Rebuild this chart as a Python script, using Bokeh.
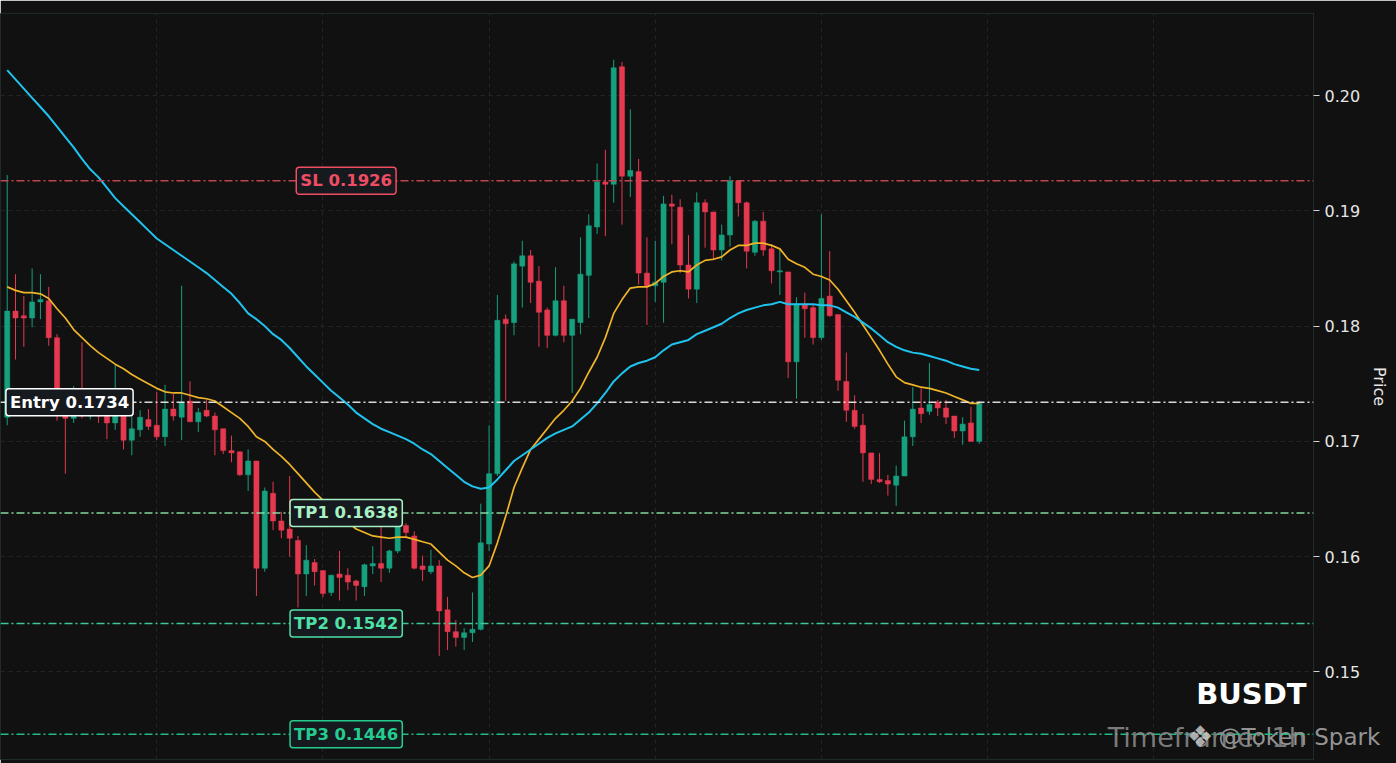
from bokeh.plotting import figure
from bokeh.models import (ColumnDataSource, Range1d, FixedTicker, PrintfTickFormatter,
                          Span, Label, Grid, Title)
from bokeh.embed import file_html
from bokeh.resources import INLINE

# ---------------- data ----------------
opens = [0.1721, 0.1813, 0.1809, 0.1807, 0.1821, 0.1822, 0.1790, 0.1723, 0.1720, 0.1725,
         0.1722, 0.1724, 0.1722, 0.1716, 0.1722, 0.1701, 0.1710, 0.1719, 0.1714, 0.1704,
         0.1728, 0.1721, 0.1735, 0.1717, 0.1727, 0.1722, 0.1711, 0.1692, 0.1691, 0.1671,
         0.1683, 0.1590, 0.1655, 0.1631, 0.1624, 0.1614, 0.1585, 0.1595, 0.1588, 0.1569,
         0.1585, 0.1584, 0.1579, 0.1574, 0.1592, 0.1594, 0.1590, 0.1605, 0.1627, 0.1618,
         0.1592, 0.1587, 0.1592, 0.1554, 0.1535, 0.1530, 0.1534, 0.1537, 0.1611, 0.1672,
         0.1806, 0.1803, 0.1852, 0.1861, 0.1839, 0.1814, 0.1792, 0.1822, 0.1792, 0.1803,
         0.1844, 0.1886, 0.1925, 0.1923, 0.2025, 0.1930, 0.1934, 0.1846, 0.1835, 0.1838,
         0.1906, 0.1903, 0.1853, 0.1832, 0.1907, 0.1899, 0.1866, 0.1879, 0.1926, 0.1907,
         0.1864, 0.1891, 0.1867, 0.1847, 0.1847, 0.1769, 0.1819, 0.1816, 0.1790, 0.1826,
         0.1810, 0.1752, 0.1727, 0.1714, 0.1690, 0.1667, 0.1666, 0.1662, 0.1670, 0.1704,
         0.1729, 0.1726, 0.1734, 0.1729, 0.1722, 0.1709, 0.1716, 0.1700]
highs = [0.1931, 0.1845, 0.1826, 0.1850, 0.1845, 0.1834, 0.1793, 0.1730, 0.1748, 0.1786,
         0.1730, 0.1728, 0.1729, 0.1767, 0.1724, 0.1727, 0.1727, 0.1728, 0.1743, 0.1749,
         0.1741, 0.1835, 0.1752, 0.1729, 0.1736, 0.1725, 0.1711, 0.1705, 0.1691, 0.1693,
         0.1683, 0.1660, 0.1665, 0.1639, 0.1670, 0.1618, 0.1610, 0.1598, 0.1588, 0.1584,
         0.1605, 0.1590, 0.1580, 0.1594, 0.1609, 0.1628, 0.1606, 0.1629, 0.1629, 0.1622,
         0.1601, 0.1606, 0.1597, 0.1565, 0.1545, 0.1538, 0.1569, 0.1646, 0.1714, 0.1827,
         0.1810, 0.1856, 0.1874, 0.1866, 0.1852, 0.1816, 0.1851, 0.1835, 0.1806, 0.1877,
         0.1897, 0.1941, 0.1953, 0.2031, 0.2029, 0.1988, 0.1945, 0.1877, 0.1874, 0.1913,
         0.1914, 0.1910, 0.1879, 0.1916, 0.1910, 0.1899, 0.1888, 0.1930, 0.1926, 0.1908,
         0.1892, 0.1899, 0.1871, 0.1866, 0.1847, 0.1825, 0.1829, 0.1819, 0.1897, 0.1865,
         0.1810, 0.1777, 0.1740, 0.1724, 0.1690, 0.1690, 0.1671, 0.1679, 0.1718, 0.1747,
         0.1746, 0.1768, 0.1736, 0.1736, 0.1722, 0.1721, 0.1730, 0.1735]
lows = [0.1714, 0.1771, 0.1782, 0.1799, 0.1806, 0.1783, 0.1718, 0.1672, 0.1716, 0.1720,
        0.1719, 0.1716, 0.1702, 0.1710, 0.1693, 0.1688, 0.1704, 0.1710, 0.1701, 0.1696,
        0.1718, 0.1701, 0.1717, 0.1708, 0.1721, 0.1688, 0.1689, 0.1682, 0.1670, 0.1657,
        0.1566, 0.1587, 0.1623, 0.1616, 0.1600, 0.1556, 0.1566, 0.1575, 0.1565, 0.1566,
        0.1562, 0.1571, 0.1562, 0.1566, 0.1585, 0.1578, 0.1586, 0.1603, 0.1616, 0.1589,
        0.1579, 0.1585, 0.1514, 0.1519, 0.1522, 0.1519, 0.1526, 0.1536, 0.1605, 0.1670,
        0.1735, 0.1792, 0.1816, 0.1820, 0.1782, 0.1781, 0.1791, 0.1786, 0.1742, 0.1793,
        0.1807, 0.1880, 0.1878, 0.1907, 0.1888, 0.1912, 0.1836, 0.1801, 0.1821, 0.1803,
        0.1871, 0.1846, 0.1824, 0.1820, 0.1868, 0.1857, 0.1857, 0.1869, 0.1895, 0.1850,
        0.1861, 0.1861, 0.1837, 0.1827, 0.1755, 0.1737, 0.1790, 0.1784, 0.1788, 0.1808,
        0.1744, 0.1717, 0.1711, 0.1665, 0.1663, 0.1664, 0.1653, 0.1644, 0.1670, 0.1696,
        0.1716, 0.1723, 0.1722, 0.1715, 0.1703, 0.1697, 0.1700, 0.1698]
closes = [0.1813, 0.1807, 0.1807, 0.1821, 0.1823, 0.1790, 0.1724, 0.1720, 0.1724, 0.1722,
          0.1725, 0.1722, 0.1716, 0.1722, 0.1701, 0.1711, 0.1721, 0.1713, 0.1704, 0.1728,
          0.1722, 0.1734, 0.1717, 0.1725, 0.1722, 0.1710, 0.1692, 0.1690, 0.1671, 0.1683,
          0.1590, 0.1657, 0.1631, 0.1623, 0.1616, 0.1585, 0.1597, 0.1587, 0.1568, 0.1584,
          0.1582, 0.1578, 0.1575, 0.1593, 0.1594, 0.1590, 0.1605, 0.1626, 0.1621, 0.1590,
          0.1589, 0.1592, 0.1553, 0.1535, 0.1530, 0.1534, 0.1537, 0.1612, 0.1672, 0.1805,
          0.1802, 0.1854, 0.1861, 0.1838, 0.1812, 0.1792, 0.1822, 0.1792, 0.1806, 0.1845,
          0.1887, 0.1925, 0.1923, 0.2024, 0.1930, 0.1935, 0.1846, 0.1835, 0.1838, 0.1906,
          0.1904, 0.1853, 0.1832, 0.1907, 0.1899, 0.1866, 0.1879, 0.1926, 0.1907, 0.1865,
          0.1891, 0.1866, 0.1848, 0.1848, 0.1769, 0.1819, 0.1815, 0.1790, 0.1824, 0.1809,
          0.1753, 0.1727, 0.1713, 0.1690, 0.1667, 0.1665, 0.1663, 0.1670, 0.1704, 0.1728,
          0.1724, 0.1732, 0.1729, 0.1721, 0.1709, 0.1715, 0.1700, 0.1733]

ema_fast = [0.1834, 0.1831, 0.1829, 0.1829, 0.1828, 0.1824, 0.1815, 0.1807, 0.1797, 0.1790,
            0.1783, 0.1777, 0.1772, 0.1767, 0.1763, 0.1758, 0.1754, 0.1750, 0.1746, 0.1743,
            0.1742, 0.1742, 0.1740, 0.1738, 0.1737, 0.1735, 0.1730, 0.1725, 0.1720, 0.1713,
            0.1704, 0.1700, 0.1693, 0.1687, 0.1680, 0.1672, 0.1664, 0.1656, 0.1649, 0.1641,
            0.1634, 0.1630, 0.1624, 0.1621, 0.1618, 0.1617, 0.1616, 0.1617, 0.1617, 0.1615,
            0.1613, 0.1611, 0.1604, 0.1597, 0.1592, 0.1586, 0.1582, 0.1584, 0.1592, 0.1612,
            0.1635, 0.1660, 0.1677, 0.1693, 0.1702, 0.1711, 0.1720, 0.1727, 0.1735, 0.1746,
            0.1760, 0.1773, 0.1790, 0.1811, 0.1823, 0.1833, 0.1834, 0.1834, 0.1837, 0.1843,
            0.1847, 0.1848, 0.1847, 0.1853, 0.1857, 0.1858, 0.1860, 0.1866, 0.1870, 0.1870,
            0.1872, 0.1872, 0.1870, 0.1867, 0.1858, 0.1854, 0.1851, 0.1845, 0.1843, 0.1840,
            0.1832, 0.1822, 0.1812, 0.1801, 0.1790, 0.1779, 0.1767, 0.1756, 0.1751, 0.1749,
            0.1747, 0.1746, 0.1744, 0.1742, 0.1739, 0.1736, 0.1733, 0.1733]
ema_slow = [0.2022, 0.2014, 0.2006, 0.1998, 0.1990, 0.1982, 0.1973, 0.1964, 0.1955, 0.1945,
            0.1936, 0.1929, 0.1920, 0.1911, 0.1904, 0.1897, 0.1890, 0.1883, 0.1876, 0.1871,
            0.1866, 0.1861, 0.1856, 0.1851, 0.1846, 0.1840, 0.1834, 0.1828, 0.1820, 0.1811,
            0.1806, 0.1800, 0.1793, 0.1788, 0.1781, 0.1773, 0.1765, 0.1758, 0.1751, 0.1744,
            0.1738, 0.1732, 0.1725, 0.1720, 0.1715, 0.1711, 0.1708, 0.1705, 0.1702, 0.1698,
            0.1693, 0.1689, 0.1683, 0.1677, 0.1671, 0.1665, 0.1661, 0.1659, 0.1660, 0.1667,
            0.1675, 0.1683, 0.1688, 0.1693, 0.1698, 0.1703, 0.1707, 0.1710, 0.1713, 0.1719,
            0.1725, 0.1733, 0.1742, 0.1752, 0.1759, 0.1765, 0.1768, 0.1770, 0.1773, 0.1779,
            0.1784, 0.1786, 0.1788, 0.1793, 0.1796, 0.1799, 0.1802, 0.1807, 0.1811, 0.1814,
            0.1816, 0.1818, 0.1819, 0.1821, 0.1819, 0.1819, 0.1819, 0.1819, 0.1818, 0.1818,
            0.1816, 0.1812, 0.1808, 0.1803, 0.1798, 0.1792, 0.1786, 0.1782, 0.1779, 0.1777,
            0.1776, 0.1774, 0.1772, 0.1770, 0.1767, 0.1765, 0.1763, 0.1762]

level_names = ["SL", "Entry", "TP1", "TP2", "TP3"]
level_values = [0.1926, 0.1734, 0.1638, 0.1542, 0.1446]
y_ticks = [0.15, 0.16, 0.17, 0.18, 0.19, 0.20]
symbol = "BUSDT"
timeframe = "1h"
brand = "@Token Spark"

# ---------------- styling ----------------
BG = "#111111"
UP = "#16a07e"
DOWN = "#e5394f"
level_line_colors = ["#c94a58", "#e6e6e6", "#8fe0aa", "#3fd39c", "#1fc78b"]
level_text_colors = ["#ef4d64", "#ffffff", "#a9f0c4", "#4fe0a6", "#25cc8f"]
LABEL_FONT = "DejaVu Sans"

idx = list(range(len(closes)))
colors = [UP if c >= o else DOWN for o, c in zip(opens, closes)]
src = ColumnDataSource(dict(
    x=idx,
    top=[max(o, c) for o, c in zip(opens, closes)],
    bottom=[min(o, c) for o, c in zip(opens, closes)],
    high=highs, low=lows, color=colors,
))

p = figure(width=1396, height=763,
           x_range=Range1d(-0.806, 157.23), y_range=Range1d(0.142411, 0.207112),
           output_backend="svg", toolbar_location=None,
           x_axis_location=None, y_axis_location="right",
           min_border_left=0, min_border_top=13, min_border_bottom=0, min_border_right=83)
p.background_fill_color = BG
p.border_fill_color = BG
p.outline_line_color = "#1f2a2d"
p.outline_line_width = 1

# grids
for g in p.xgrid:
    g.visible = False
p.add_layout(Grid(dimension=0, ticker=FixedTicker(ticks=[18, 38, 58, 78, 98, 118, 138]),
                  grid_line_color="#2a2a2a", grid_line_dash="4 4", grid_line_width=0.8))
p.ygrid.ticker = FixedTicker(ticks=y_ticks)
p.ygrid.grid_line_color = "#2a2a2a"
p.ygrid.grid_line_dash = "4 4"
p.ygrid.grid_line_width = 0.8

# y axis
ax = p.yaxis[0]
ax.ticker = FixedTicker(ticks=y_ticks)
ax.formatter = PrintfTickFormatter(format="%.2f")
ax.axis_line_color = None
ax.major_tick_line_color = "#d0d0d0"
ax.major_tick_out = 6
ax.major_tick_in = 0
ax.minor_tick_line_color = None
ax.major_label_standoff = 5
ax.major_label_text_color = "#e6e6e6"
ax.major_label_text_font = "DejaVu Sans"
ax.major_label_text_font_size = "16px"
ax.axis_label = "Price"
ax.axis_label_text_color = "#e6e6e6"
ax.axis_label_text_font = "DejaVu Sans"
ax.axis_label_text_font_size = "16px"
ax.axis_label_text_font_style = "normal"
ax.axis_label_standoff = 7

# candles
p.segment(x0="x", y0="low", x1="x", y1="high", source=src, line_color="color", line_width=1)
p.vbar(x="x", top="top", bottom="bottom", width=0.62, source=src,
       fill_color="color", line_color="color", line_width=0.5)

# moving averages
p.line(idx, ema_fast, line_color="#f0b429", line_width=1.7)
p.line(idx, ema_slow, line_color="#1fc3ee", line_width=2)

# trade levels
for name, val, lc, tc in zip(level_names, level_values, level_line_colors, level_text_colors):
    p.add_layout(Span(location=val, dimension="width", line_color=lc, line_width=1.5,
                      line_dash="8 3 2 3", line_alpha=0.95))
    lx = 7.5 if name == "Entry" else 40.8
    p.add_layout(Label(x=lx, y=val, text=f"{name} {val:.4f}", text_align="center",
                       text_baseline="middle", text_font=LABEL_FONT, text_font_style="bold",
                       text_font_size="16.5px", text_color=tc,
                       background_fill_color="#161a1f", background_fill_alpha=1.0,
                       border_line_color=tc, border_line_width=1.5, padding=4,
                       border_radius=3))

# watermark
p.add_layout(Label(x=156.4, y=0.14813, text=symbol, text_align="right", text_baseline="middle",
                   text_font="DejaVu Sans", text_font_style="bold", text_font_size="29px",
                   text_color="#ffffff"))
p.add_layout(Label(x=156.3, y=0.14432, text=f"Timeframe: {timeframe}", text_align="right",
                   text_baseline="middle", text_font="DejaVu Sans", text_font_size="27px",
                   text_color="#8e8e8e", text_alpha=0.85))
p.add_layout(Label(x=143.6, y=0.14440, text="\u2756", text_align="center",
                   text_baseline="middle", text_font="DejaVu Sans", text_font_size="30px",
                   text_color="#c8c8c8", text_alpha=0.85))
# brand text sits partly right of the frame, so it is drawn as a (two-line) title
p.add_layout(Title(text=brand + "\n", align="left", vertical_align="middle", offset=1218,
                   standoff=-73, text_line_height=1.9, text_font="DejaVu Sans",
                   text_font_size="23px", text_font_style="normal",
                   text_color="#b8b8b8", text_alpha=0.8),
             "below")

open("out.html", "w").write(file_html(p, INLINE))
